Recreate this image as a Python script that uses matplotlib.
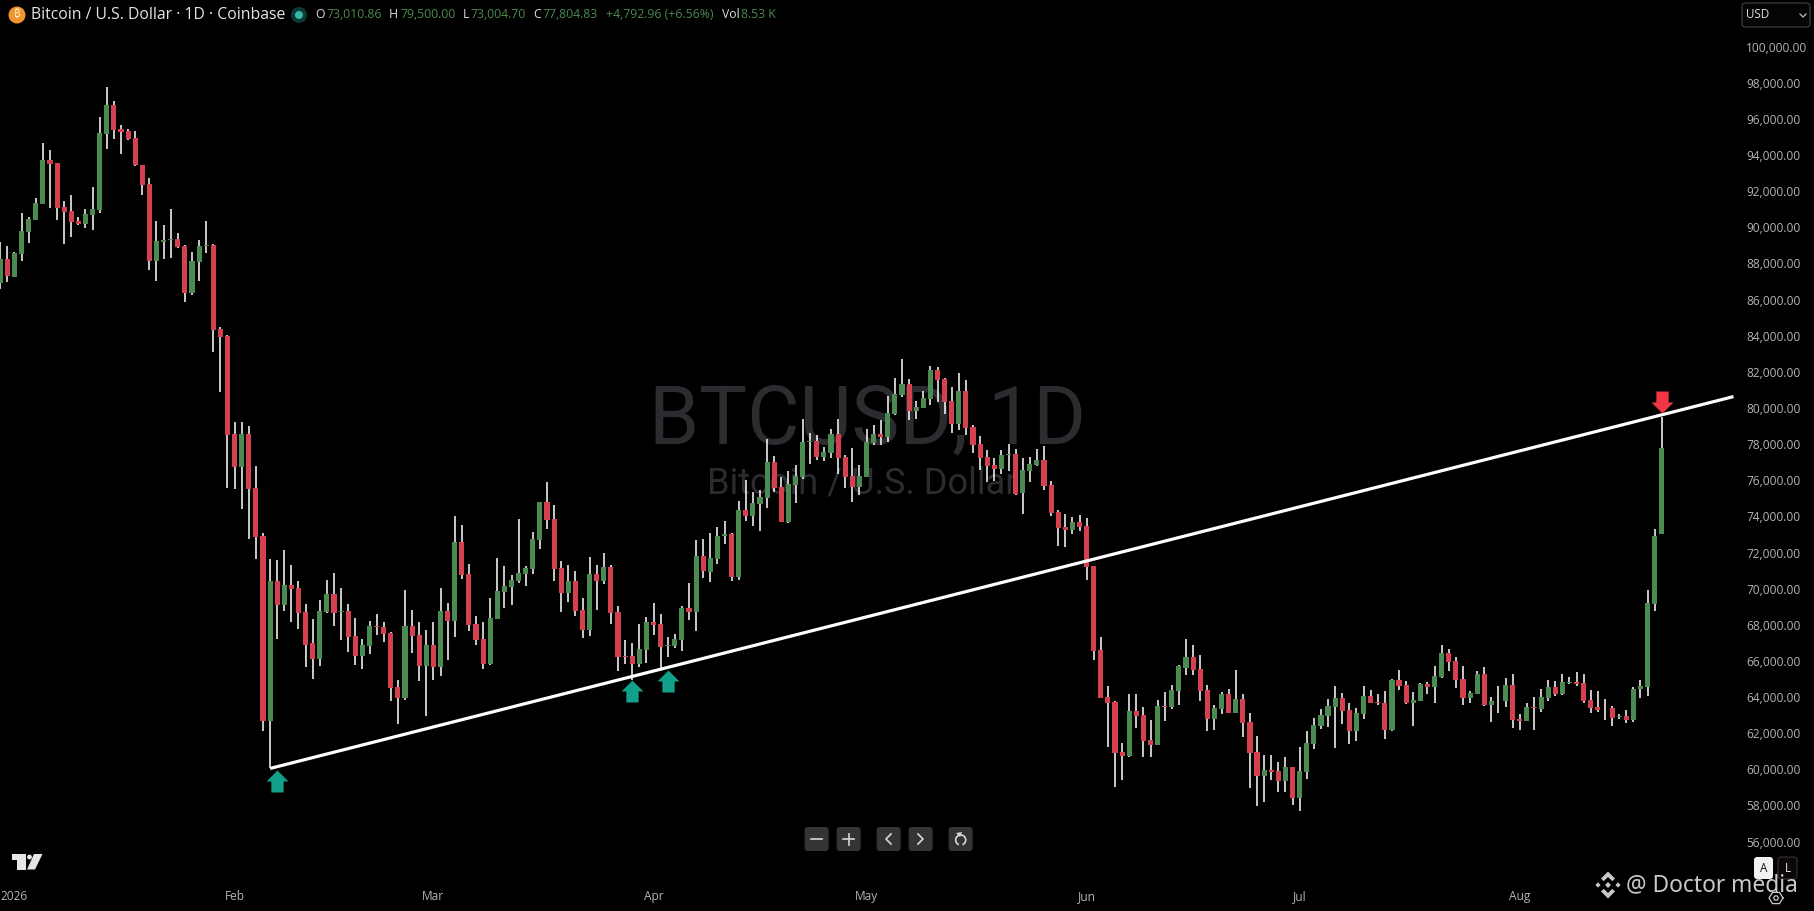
import numpy as np
import matplotlib
matplotlib.use("Agg")
import matplotlib.pyplot as plt
from matplotlib.patches import Circle, FancyBboxPatch, Polygon

W, H = 1815, 911

# daily candles, thousand USD, first bar is 30 Dec 2025
opens = [86.94,88.25,87.27,88.52,89.74,90.40,91.31,93.73,93.56,91.12,90.90,90.35,90.18,90.68,90.96,
         95.18,96.77,95.44,95.33,94.94,93.45,92.40,88.13,89.20,89.32,89.35,88.96,86.36,88.08,88.98,
         89.02,84.37,83.98,78.54,76.73,78.54,75.55,72.92,62.69,70.43,69.10,70.20,70.04,68.71,66.99,
         66.11,68.71,69.71,68.71,68.76,67.38,66.27,66.83,67.93,67.88,67.55,64.56,63.95,67.93,67.44,
         65.72,66.88,65.66,68.76,68.21,72.58,70.81,68.04,67.21,65.83,68.32,69.82,70.09,70.43,70.81,
         71.09,72.69,74.80,73.86,71.15,69.76,70.43,68.82,67.71,70.81,70.43,71.20,68.71,66.26,66.27,
         65.83,66.61,68.16,68.04,66.83,66.83,67.16,68.93,68.71,71.81,70.92,71.64,72.92,73.03,70.65,
         74.35,74.02,74.69,75.02,77.01,75.63,73.69,75.74,76.18,78.12,78.17,77.29,77.51,78.56,77.29,
         76.24,75.63,76.18,78.06,78.56,78.39,79.67,80.72,81.33,79.83,80.00,80.50,82.10,81.60,80.39,
         79.11,80.94,78.95,78.01,77.29,76.84,76.62,77.40,77.45,75.30,76.51,76.84,77.12,75.74,74.24,
         73.41,73.25,73.69,73.47,71.26,66.61,64.00,63.73,60.96,60.74,63.23,63.00,61.62,61.35,63.51,
         63.45,64.34,65.61,66.22,65.55,64.39,62.79,63.34,64.17,63.12,63.89,62.62,60.96,59.63,59.96,
         59.91,59.35,60.13,58.41,59.85,61.40,62.40,62.95,63.45,63.95,63.29,62.12,63.06,64.06,63.73,
         63.67,62.18,64.95,64.67,63.67,63.78,64.72,64.56,65.11,66.44,65.99,65.00,63.95,64.17,65.28,
         63.56,63.82,63.78,64.67,62.79,62.67,63.45,63.34,63.95,64.56,64.17,64.80,64.83,64.78,63.84,
         63.45,63.37,63.39,62.90,62.95,62.73,64.45,64.56,69.15,73.01]
highs = [89.20,88.97,88.65,90.79,90.59,91.64,94.68,94.28,93.56,91.46,91.79,90.57,91.01,92.25,96.10,
         97.78,96.99,95.66,95.44,95.33,93.45,92.71,90.35,90.13,91.01,89.68,89.02,88.63,89.30,90.35,
         89.08,84.48,84.04,79.22,79.22,79.00,76.79,73.06,71.64,71.59,72.14,71.31,70.43,69.15,68.32,
         69.37,70.48,70.87,70.04,69.15,68.38,67.21,68.21,68.60,68.16,67.60,64.95,69.93,68.82,68.16,
         67.71,68.16,70.04,69.20,74.02,73.52,71.36,68.49,68.16,69.48,71.70,71.26,70.76,73.86,71.26,
         73.14,74.80,75.92,74.63,71.53,71.31,70.98,69.48,71.75,71.31,71.97,71.31,69.04,67.16,66.99,
         68.04,68.43,69.21,68.60,67.33,67.49,69.04,70.31,72.69,72.75,73.08,73.41,73.75,73.08,74.85,
         76.02,75.35,75.46,78.28,77.34,76.18,76.51,76.84,79.39,78.62,78.51,77.84,78.84,79.39,77.40,
         77.79,76.84,78.84,79.06,79.34,80.66,81.66,82.71,81.60,80.39,80.94,82.33,82.27,81.66,81.16,
         81.94,81.55,79.06,78.45,77.68,77.23,77.68,78.01,77.73,77.23,77.29,77.73,77.90,75.96,74.35,
         74.13,73.97,74.08,73.91,71.26,67.32,64.61,63.78,61.46,64.17,64.17,63.45,62.73,63.84,64.28,
         64.67,65.77,67.21,66.88,66.33,64.67,63.56,64.28,64.45,65.50,64.17,63.12,61.85,60.79,60.79,
         60.41,60.68,60.13,61.24,62.12,62.84,63.34,63.89,64.61,64.22,63.67,63.40,64.61,64.39,64.17,
         64.34,65.00,65.50,64.89,64.28,64.78,64.83,65.72,66.88,66.66,66.22,65.72,64.33,65.44,65.68,
         64.00,64.61,65.06,65.28,63.06,63.67,64.00,64.45,64.94,64.89,65.28,65.11,65.39,65.28,64.39,
         64.33,63.89,63.51,63.06,63.28,64.56,64.94,69.93,73.30,79.50]
lows = [86.59,86.97,87.23,88.13,89.13,90.40,91.31,91.07,90.40,89.08,89.46,90.13,89.96,89.85,90.79,
        94.33,94.89,94.06,94.83,93.39,91.79,87.64,87.03,88.25,88.30,88.85,85.87,86.25,87.03,88.58,
        83.10,80.90,75.57,75.52,74.41,72.75,71.64,62.14,60.05,67.21,68.76,68.16,67.77,65.66,65.00,
        65.72,68.65,67.93,67.16,66.49,65.78,65.55,66.38,67.44,67.05,63.78,62.51,63.84,66.44,64.89,
        62.95,64.95,65.17,66.05,67.32,70.53,67.66,66.88,65.55,65.77,68.32,68.95,69.10,70.31,70.15,
        70.81,72.20,73.30,70.43,68.71,69.26,68.49,67.27,67.38,68.82,70.26,68.04,65.44,65.83,64.95,
        65.67,65.89,67.44,65.50,66.22,66.72,66.55,68.27,67.66,70.59,70.37,71.37,72.47,70.43,70.48,
        73.75,73.47,73.19,74.47,75.35,73.69,73.64,74.74,76.07,76.90,77.12,77.07,77.23,76.35,75.57,
        74.80,75.18,76.18,77.95,77.95,78.12,79.61,80.61,79.34,79.39,80.00,80.17,80.33,79.67,78.62,
        78.78,78.51,77.51,76.57,75.90,75.96,76.35,76.51,75.18,74.13,75.90,76.79,75.46,74.02,72.36,
        72.31,73.03,73.19,70.48,66.05,63.95,61.24,59.02,59.41,60.68,62.29,60.68,60.68,61.35,62.68,
        63.34,63.56,65.22,65.22,63.78,62.12,62.18,63.06,63.12,63.12,61.79,58.97,57.97,58.19,59.41,
        58.75,58.75,58.03,57.69,59.47,61.12,62.23,62.34,61.18,62.51,61.40,61.57,62.79,63.67,63.56,
        61.68,62.12,64.39,63.62,62.40,63.78,64.17,63.67,65.06,65.44,64.50,63.56,63.67,64.17,63.51,
        62.62,63.12,63.45,62.29,62.18,62.67,62.18,63.17,63.78,64.06,64.11,64.72,64.61,63.67,63.12,
        63.17,62.73,62.40,62.79,62.56,62.62,63.95,64.06,68.76,73.00]
closes = [88.25,87.30,88.60,89.80,90.48,91.35,93.73,93.50,91.07,90.83,90.29,90.18,90.74,91.01,95.22,
          96.77,95.40,95.27,94.89,93.45,92.34,88.13,89.24,89.28,89.35,88.91,86.36,88.13,88.96,89.02,
          84.32,83.93,78.51,76.73,78.54,75.54,72.86,62.69,70.43,69.10,70.20,69.98,68.65,66.88,66.11,
          68.76,69.71,68.65,68.76,67.32,66.27,66.88,67.93,67.88,67.49,64.50,63.95,67.93,67.38,65.72,
          66.88,65.66,68.76,68.21,72.58,70.76,67.99,67.16,65.83,68.38,69.87,70.15,70.48,70.87,71.15,
          72.73,74.80,73.80,71.09,69.76,70.43,68.76,67.71,70.81,70.43,71.20,68.65,66.22,66.20,65.83,
          66.66,68.16,67.99,66.77,66.88,67.21,68.93,68.71,71.81,70.98,71.70,72.92,73.03,70.65,74.35,
          74.02,74.74,75.07,77.01,75.57,73.69,75.79,76.24,78.12,78.17,77.29,77.56,78.56,77.23,76.18,
          75.63,76.24,78.12,78.56,78.39,79.72,80.78,81.33,79.83,80.06,80.55,82.10,81.55,80.33,79.11,
          80.94,78.89,77.95,77.23,76.79,76.62,77.40,77.45,75.24,76.57,76.90,77.12,75.68,74.19,73.36,
          73.25,73.69,73.41,71.20,66.55,63.95,63.67,60.91,60.74,63.23,62.95,61.57,61.35,63.51,63.45,
          64.39,65.72,66.22,65.50,64.34,62.79,63.40,64.17,63.12,63.89,62.57,60.91,59.63,59.96,59.85,
          59.35,60.13,58.41,59.91,61.46,62.45,63.01,63.51,63.95,63.23,62.12,63.12,64.06,63.67,63.67,
          62.18,64.95,64.61,63.67,63.84,64.72,64.56,65.17,66.44,65.94,64.95,63.95,64.22,65.28,63.56,
          63.78,63.84,64.67,62.73,62.67,63.45,63.39,64.00,64.56,64.17,64.83,64.83,64.74,63.78,63.39,
          63.28,63.39,62.84,62.93,62.73,64.45,64.61,69.21,72.92,77.80]

price_ticks = list(range(56, 102, 2))
month_idx = [2, 33, 61, 92, 122, 153, 183, 214]
month_labels = ["2026", "Feb", "Mar", "Apr", "May", "Jun", "Jul", "Aug"]

trend_idx = [38, 244.1]
trend_price = [60.05, 80.63]
up_arrow_idx = [39, 89, 94]
up_arrow_price = [59.33, 64.35, 64.87]
down_arrow_idx = [234]
down_arrow_price = [80.34]

GREEN = "#4b8a50"
RED = "#d5404f"
TEXT = "#b4b4b4"
FONT = "Open Sans"

plt.rcParams["font.family"] = [FONT, "DejaVu Sans"]
fig = plt.figure(figsize=(W / 100, H / 100), dpi=100, facecolor="black")

# price pane, axis limits fitted to the screenshot
ax = fig.add_axes([0, 0, 1742 / W, 1])
ax.set_facecolor("black")
ax.set_xlim(-0.04, 245.3)
ax.set_ylim(52.16, 102.58)
for s in ax.spines.values():
    s.set_visible(False)

ax.set_yticks(price_ticks)
ax.set_yticklabels([f"{p * 1000:,.2f}" for p in price_ticks], fontsize=8.6, color=TEXT)
ax.yaxis.tick_right()
ax.tick_params(axis="y", length=0, pad=3)
ax.set_xticks(month_idx)
ax.set_xticklabels(month_labels, fontsize=8.6, color=TEXT)
ax.tick_params(axis="x", length=0, pad=-15)

ax.text(122.2, 78.05, "BTCUSD, 1D", fontsize=58, color="#2b2c30", ha="center", va="baseline", zorder=0, family="Roboto")
ax.text(121.4, 75.24, "Bitcoin / U.S. Dollar", fontsize=26, color="#2b2c30", ha="center", va="baseline", zorder=0, family="Roboto")

x = np.arange(len(opens))
o = np.array(opens)
c = np.array(closes)
colors = [GREEN if b >= a else RED for a, b in zip(opens, closes)]
ax.vlines(x, lows, highs, color="white", lw=1.1, zorder=2)
ax.bar(x, np.abs(c - o), bottom=np.minimum(o, c), width=0.72, color=colors, zorder=3)

ax.plot(trend_idx, trend_price, color="white", lw=2.3, zorder=4, solid_capstyle="butt")

arrow_up = [(-0.28, -0.5), (0.28, -0.5), (0.28, 0.0), (0.5, 0.0), (0, 0.5), (-0.5, 0.0), (-0.28, 0.0)]
arrow_down = [(a, -b) for a, b in arrow_up]
ax.scatter(up_arrow_idx, up_arrow_price, marker=arrow_up, s=250, color="#12a08a", linewidths=0, zorder=5)
ax.scatter(down_arrow_idx, down_arrow_price, marker=arrow_down, s=250, color="#f23645", linewidths=0, zorder=5)

# overlay in screen pixels for the tradingview chrome
ui = fig.add_axes([0, 0, 1, 1])
ui.set_xlim(0, W)
ui.set_ylim(H, 0)
ui.axis("off")
ui.patch.set_alpha(0)


def box(x0, y0, w, h, fc, ec="none", r=3):
    ui.add_patch(FancyBboxPatch((x0 + r, y0 + r), w - 2 * r, h - 2 * r, boxstyle=f"round,pad={r}", fc=fc, ec=ec, lw=0.8))


# header
ui.add_patch(Circle((17, 15), 8.5, fc="#f0962e"))
ui.text(17, 14.5, "₿", color="#ffe9c8", fontsize=8, ha="center", va="center", family=["Noto Sans", "Roboto", "Lato", "Inter", "Liberation Sans", "DejaVu Sans"])
ui.text(31, 15, "Bitcoin / U.S. Dollar · 1D · Coinbase", color="#e4e4e4", fontsize=11.3, va="center")
ui.add_patch(Circle((299, 15), 8, fc="#0c3a34"))
ui.add_patch(Circle((299, 15), 4, fc="#35b8a4"))
header_parts = [(315, "O", "#dddddd"), (326, "73,010.86", GREEN), (389, "H", "#dddddd"), (400, "79,500.00", GREEN),
                (463, "L", "#dddddd"), (470, "73,004.70", GREEN), (533, "C", "#dddddd"), (542, "77,804.83", GREEN),
                (606, "+4,792.96 (+6.56%)", GREEN), (722, "Vol", "#dddddd"), (741, "8.53 K", GREEN)]
for px, label, col in header_parts:
    ui.text(px, 15, label, color=col, fontsize=8.8, va="center")

# currency box
box(1742, 3, 68, 24, "#050505", "#444444")
ui.text(1746, 15, "USD", color="#dddddd", fontsize=8.4, va="center")
ui.plot([1800, 1803, 1806], [14, 17, 14], color="#bbbbbb", lw=0.9)

# zoom buttons
for cx in [816.7, 848.7, 888.7, 920.7, 960.7]:
    box(cx - 12, 827, 24, 24, "#343434")
ui.plot([811, 822], [839, 839], color="#d8d8d8", lw=1.2)
ui.plot([843, 854], [839, 839], color="#d8d8d8", lw=1.2)
ui.plot([848.7, 848.7], [833.5, 844.5], color="#d8d8d8", lw=1.2)
ui.plot([891, 886, 891], [834, 839, 844], color="#d8d8d8", lw=1.2)
ui.plot([918, 923, 918], [834, 839, 844], color="#d8d8d8", lw=1.2)
t = np.radians(np.linspace(-60, 240, 40))
ui.plot(960.7 + 5 * np.cos(t), 840 - 5 * np.sin(t), color="#d8d8d8", lw=1.2)
ui.add_patch(Polygon([(956, 833), (962, 832), (960, 837)], fc="#d8d8d8"))

# tradingview logo
ui.add_patch(Polygon([(12, 854), (26, 854), (26, 869.5), (17.5, 869.5), (17.5, 860), (12, 860)], fc="#e6e6e6"))
ui.add_patch(Circle((29.5, 857), 2.4, fc="#e6e6e6"))
ui.add_patch(Polygon([(34, 854), (42.5, 854), (35, 869.5), (27, 869.5)], fc="#e6e6e6"))

# A / L buttons and gear
box(1754, 857, 19, 22, "#f2f2f2")
ui.text(1763.5, 868, "A", color="#111111", fontsize=8.4, ha="center", va="center")
box(1778, 857, 19, 22, "#0c0708", "#333333")
ui.text(1787.5, 868, "L", color="#f0e4e4", fontsize=8.4, ha="center", va="center")
hex_t = np.radians(np.arange(0, 361, 60))
ui.plot(1776 + 7 * np.cos(hex_t), 898 + 6.5 * np.sin(hex_t), color="#cccccc", lw=0.9)
ui.add_patch(Circle((1776, 898), 2.2, fc="none", ec="#cccccc", lw=0.9))

# watermark
MARK = "#c9c9c9"
cx, cy = 1608, 885
ui.add_patch(Polygon([(cx, cy - 13.5), (cx + 7, cy - 6.5), (cx + 4.3, cy - 3.8), (cx, cy - 8), (cx - 4.3, cy - 3.8), (cx - 7, cy - 6.5)], fc=MARK))
ui.add_patch(Polygon([(cx, cy + 13.5), (cx + 7, cy + 6.5), (cx + 4.3, cy + 3.8), (cx, cy + 8), (cx - 4.3, cy + 3.8), (cx - 7, cy + 6.5)], fc=MARK))
for dx, dy, r in [(0, 0, 3), (-10, 0, 2.6), (10, 0, 2.6)]:
    ui.add_patch(Polygon([(cx + dx, cy + dy - r), (cx + dx + r, cy + dy), (cx + dx, cy + dy + r), (cx + dx - r, cy + dy)], fc=MARK))
ui.text(1626, 885, "@ Doctor media", color=MARK, fontsize=16.4, va="center", family="Noto Sans")

fig.savefig("out.png", dpi=100, facecolor="black")
